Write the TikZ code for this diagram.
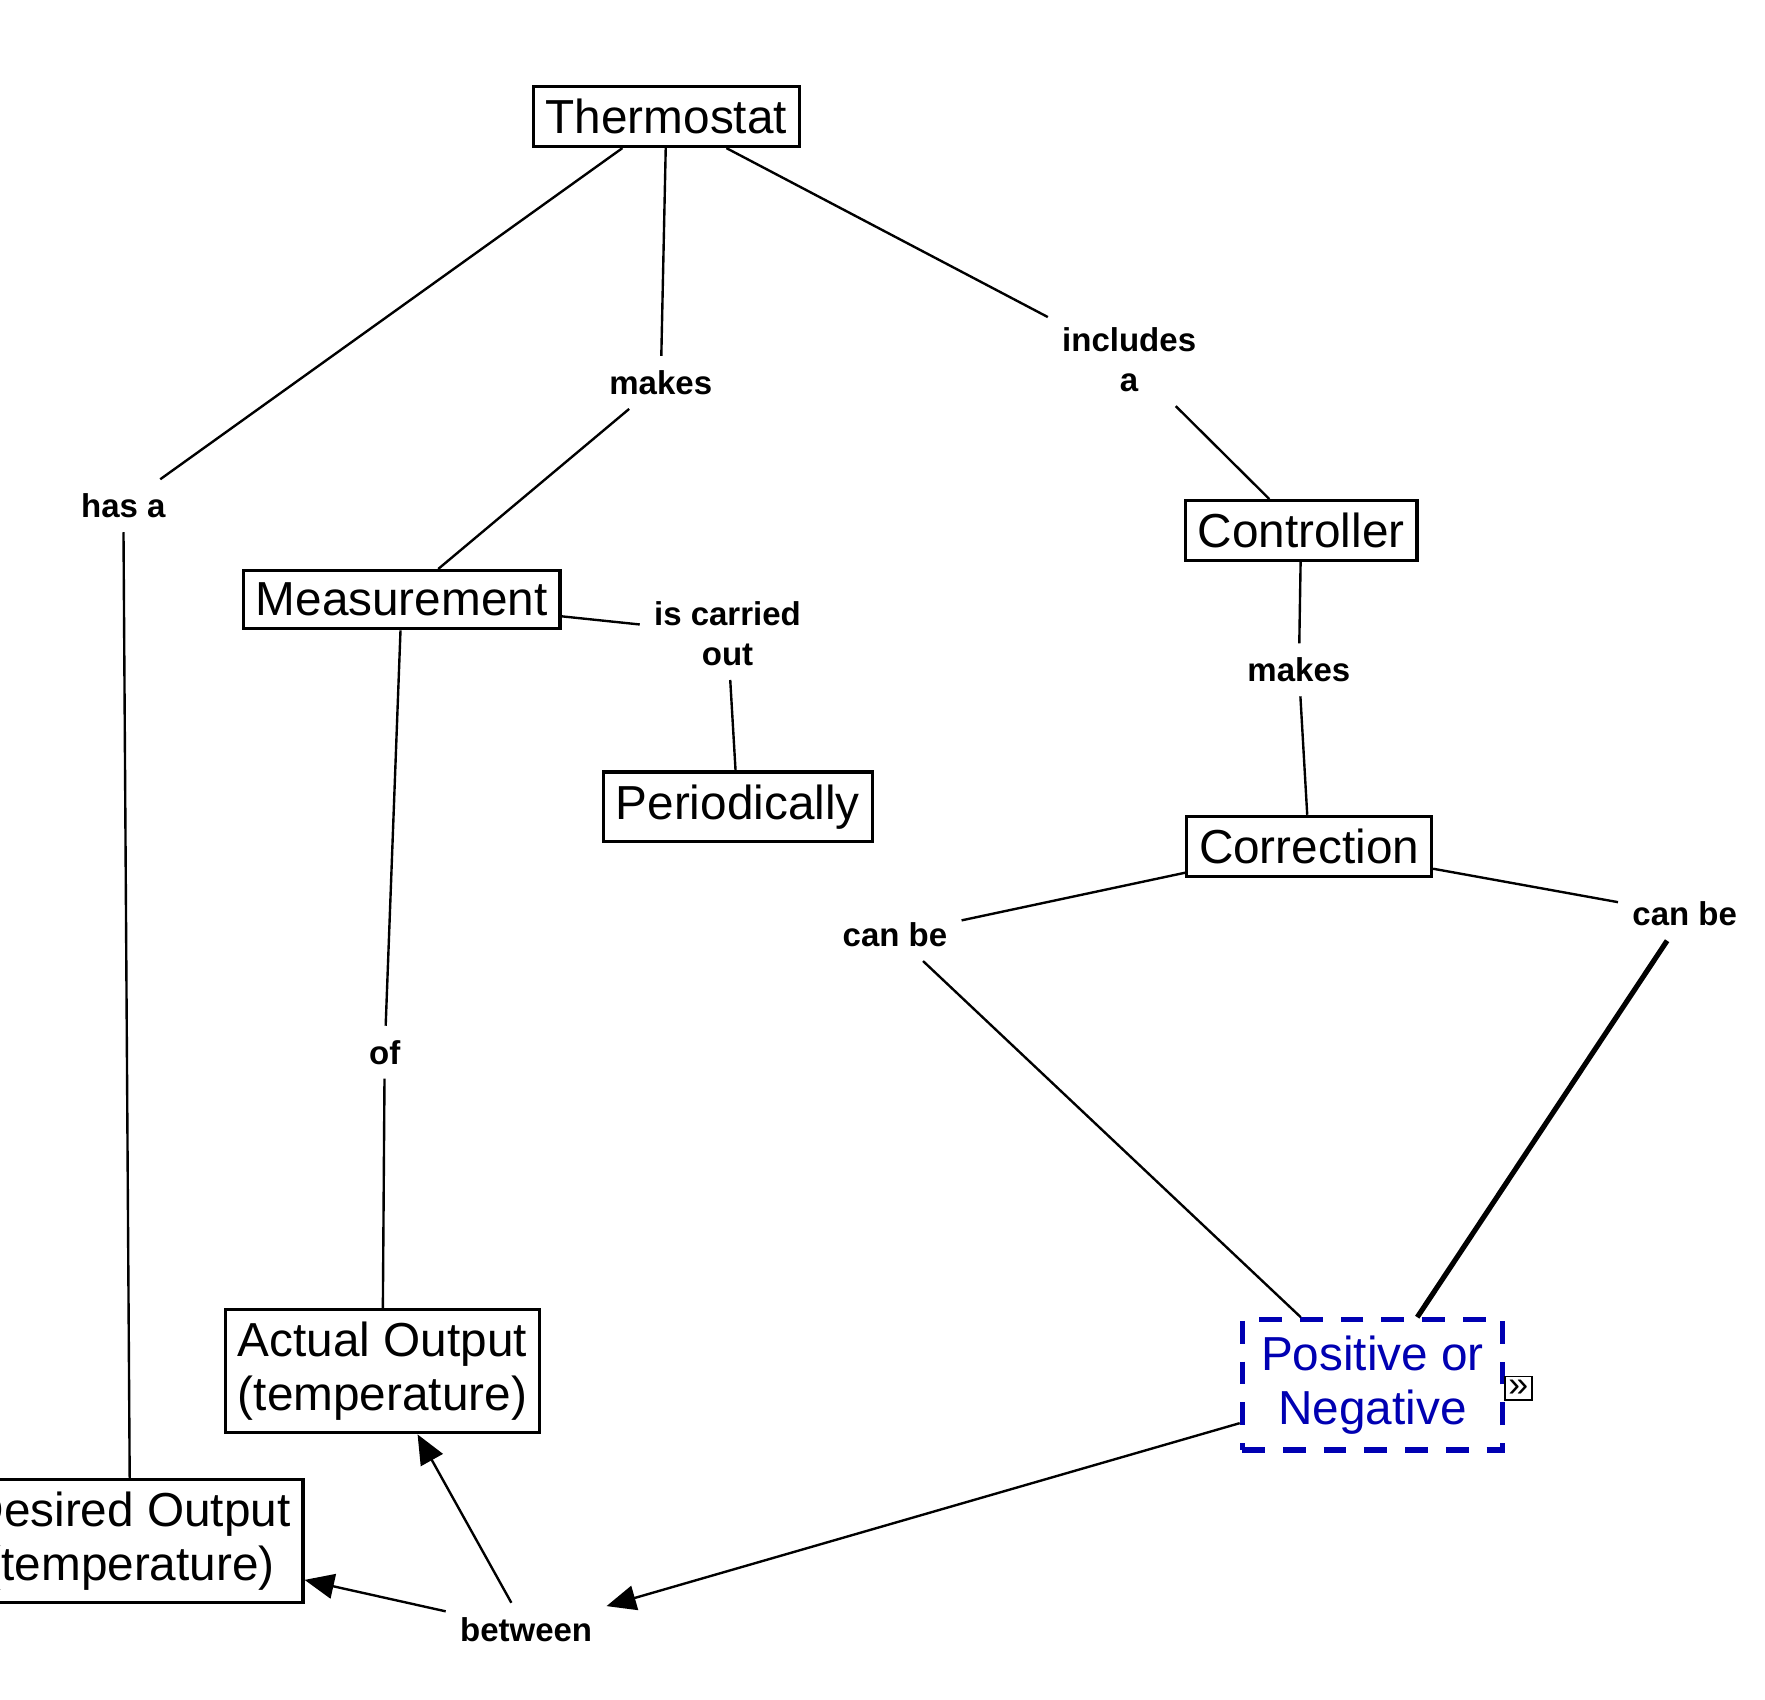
\documentclass[tikz,border=0pt]{standalone}
\usepackage{fontspec}
\setmainfont{Liberation Sans}
\usetikzlibrary{arrows.meta}
\begin{document}
\begin{tikzpicture}[x=0.1mm,y=-0.1mm,
  concept/.style={draw, thick, fill=white, font=\fontsize{12}{13.5}\selectfont, align=center, inner sep=1.1mm},
  link/.style={font=\bfseries\fontsize{8.3}{10}\selectfont, align=center, inner sep=1.2mm},
  conn/.style={line width=0.6pt},
  arr/.style={conn, -{Triangle[length=2.6mm,width=2.2mm]}}]
\useasboundingbox (0,0) rectangle (1560,1502);
% concepts
\node[concept] (thermo) at (589,103) {Thermostat};
\node[concept] (meas) at (355,530) {Measurement};
\node[concept] (period) at (652,713) {Periodically};
\node[concept] (ctrl) at (1150,469) {Controller};
\node[concept] (corr) at (1157,748) {Correction};
\node[concept] (actual) at (338,1212) {Actual Output\\(temperature)};
\node[concept] (desired) at (115,1362) {Desired Output\\(temperature)};
\node[concept, draw=blue!70!black, text=blue!70!black, line width=1.3pt,
  dash pattern=on 2mm off 1.6mm, minimum width=23mm, minimum height=11.5mm] (pn) at (1213,1224) {Positive or\\Negative};
\node[draw, inner sep=0.3mm, font=\fontsize{9}{9}\selectfont] (icon) at (1342,1227) {»};
% links
\node[link] (hasa) at (109,447) {has a};
\node[link] (makes1) at (584,338) {makes};
\node[link] (incl) at (998,318) {includes\\a};
\node[link] (carried) at (643,560) {is carried\\out};
\node[link] (of) at (340,930) {of};
\node[link] (makes2) at (1148,592) {makes};
\node[link] (canl) at (791,826) {can be};
\node[link] (canr) at (1489,808) {can be};
\node[link] (betw) at (465,1440) {between};
% connections
\draw[conn] (thermo) -- (hasa);
\draw[conn] (hasa) -- (desired);
\draw[conn] (thermo) -- (makes1);
\draw[conn] (makes1) -- (meas);
\draw[conn] (thermo) -- (incl);
\draw[conn] (incl) -- (ctrl);
\draw[conn] (meas) -- (carried);
\draw[conn] (carried) -- (period);
\draw[conn] (meas) -- (of);
\draw[conn] (of) -- (actual);
\draw[conn] (ctrl) -- (makes2);
\draw[conn] (makes2) -- (corr);
\draw[conn] (corr) -- (canl);
\draw[conn] (canl) -- (pn);
\draw[conn] (corr) -- (canr);
\draw[line width=1.3pt] (canr) -- (pn);
\draw[arr] (pn) -- (betw);
\draw[arr] (betw) -- (actual);
\draw[arr] (betw) -- (desired);
\end{tikzpicture}
\end{document}
